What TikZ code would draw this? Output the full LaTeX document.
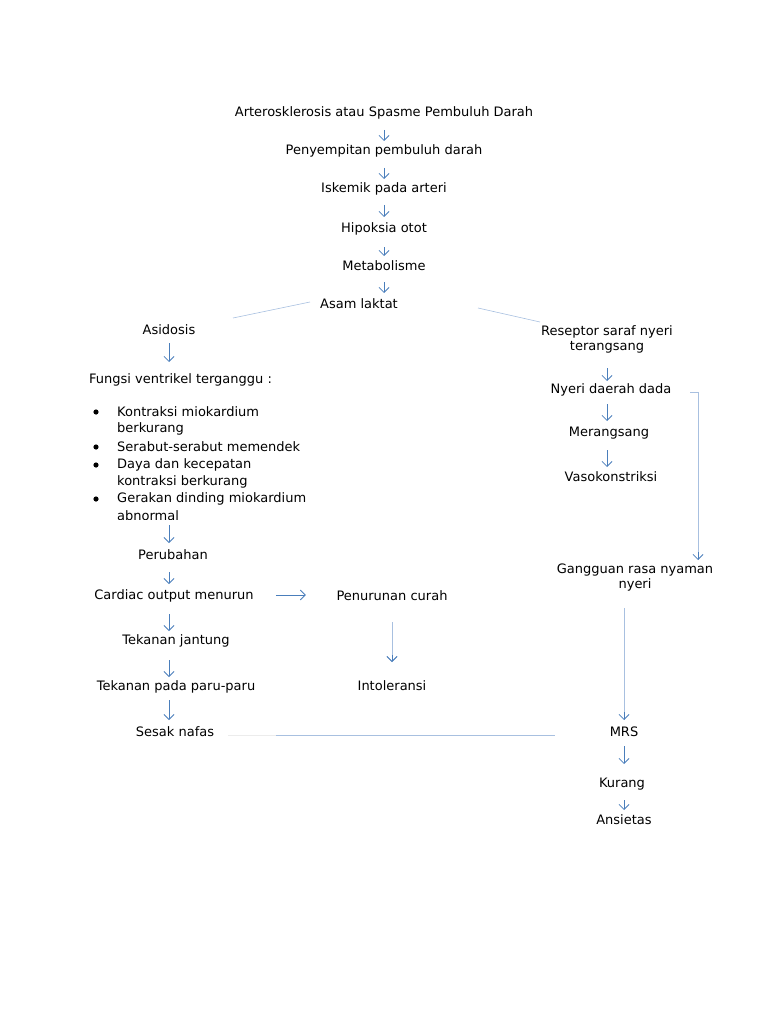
\documentclass[tikz,border=0pt]{standalone}
\usepackage{fontspec}
\setmainfont{DejaVu Sans}
\usetikzlibrary{arrows.meta}
\definecolor{ab}{HTML}{4A7EBB}
\definecolor{lb}{HTML}{A8C0E0}
\begin{document}
\begin{tikzpicture}[x=1pt,y=-1pt,
  t/.style={inner sep=0pt,font=\fontsize{13}{15}\selectfont},
  tl/.style={t,anchor=west},
  ar/.style={draw=ab,line width=0.8pt,-{Straight Barb[length=5pt,width=10pt]}},
  fl/.style={draw=lb,line width=0.6pt}]
\useasboundingbox (0,0) rectangle (768,1024);
\node[t] (a1) at (384,113) {Arterosklerosis atau Spasme Pembuluh Darah};
\node[t] (a2) at (384,151) {Penyempitan pembuluh darah};
\node[t] (a3) at (384,189) {Iskemik pada arteri};
\node[t] (a4) at (384,229) {Hipoksia otot};
\node[t] (a5) at (384,266) {Metabolisme};
\node[t] (a6) at (359,304) {Asam laktat};
\coordinate (c1) at (384,130); \coordinate (c1e) at (384,141);
\coordinate (c2) at (384,168); \coordinate (c2e) at (384,179);
\coordinate (c3) at (384,205); \coordinate (c3e) at (384,217);
\coordinate (c4) at (384,247); \coordinate (c4e) at (384,256);
\coordinate (c5) at (384,282); \coordinate (c5e) at (384,293);
\draw[ar] (c1)--(c1e); \draw[ar] (c2)--(c2e); \draw[ar] (c3)--(c3e);
\draw[ar] (c4)--(c4e); \draw[ar] (c5)--(c5e);
\coordinate (l1) at (310,302); \coordinate (l2) at (233,318);
\coordinate (r1) at (478,308); \coordinate (r2) at (540,322);
\draw[fl] (l1)--(l2); \draw[fl] (r1)--(r2);
% left
\node[t] (b1) at (169,330) {Asidosis};
\coordinate (d1) at (169,343); \coordinate (d1e) at (169,362); \draw[ar] (d1)--(d1e);
\node[tl] (b2) at (89,380) {Fungsi ventrikel terganggu :};
\begin{scope}
\clip (80,400) rectangle (360,519);
\foreach \y in {412,447,465,499} \fill (96,\y) circle (2.6pt);
\node[tl] at (117,412) {Kontraksi miokardium};
\node[tl] at (117,429) {berkurang};
\node[tl] at (117,447) {Serabut-serabut memendek};
\node[tl] at (117,465) {Daya dan kecepatan};
\node[tl] at (117,482) {kontraksi berkurang};
\node[tl] at (117,499) {Gerakan dinding miokardium};
\node[tl] at (117,516) {abnormal};
\end{scope}
\coordinate (d2) at (169,525); \coordinate (d2e) at (169,543); \draw[ar] (d2)--(d2e);
\node[t] (b3) at (173,555) {Perubahan};
\coordinate (d3) at (169,572); \coordinate (d3e) at (169,584); \draw[ar] (d3)--(d3e);
\node[t] (b4) at (174,596) {Cardiac output menurun};
\node[t] (b5) at (392,596) {Penurunan curah};
\draw[ar] (b4.east)++(22,-1) coordinate (h1) -- ++(30,0) coordinate (h2);
\coordinate (d4) at (169,614); \coordinate (d4e) at (169,631); \draw[ar] (d4)--(d4e);
\node[t] (b6) at (176,641) {Tekanan jantung};
\coordinate (d5) at (169,660); \coordinate (d5e) at (169,677); \draw[ar] (d5)--(d5e);
\node[t] (b7) at (176,687) {Tekanan pada paru-paru};
\coordinate (d6) at (169,700); \coordinate (d6e) at (169,720); \draw[ar] (d6)--(d6e);
\node[t] (b8) at (175,732) {Sesak nafas};
\coordinate (s1) at (276,735); \coordinate (s2) at (555,735);
\draw[fl] (s1)--(s2);
\draw[draw=gray!15] (228,735)--(s1);
\coordinate (p1) at (392,622); \coordinate (p1e) at (392,662); \draw[ar,draw=lb] (p1)--(p1e);
\draw[draw=ab,line width=0.8pt,-{Straight Barb[length=5pt,width=10pt]}] (392,655)--(p1e);
\node[t] (b9) at (392,686) {Intoleransi};
% right
\node[t,align=center] (e1) at (607,339) {Reseptor saraf nyeri\\terangsang};
\coordinate (f1) at (607,368); \coordinate (f1e) at (607,381); \draw[ar] (f1)--(f1e);
\node[t] (e2) at (611,390) {Nyeri daerah dada};
\coordinate (f2) at (607,404); \coordinate (f2e) at (607,421); \draw[ar] (f2)--(f2e);
\node[t] (e3) at (609,433) {Merangsang};
\coordinate (f3) at (607,450); \coordinate (f3e) at (607,467); \draw[ar] (f3)--(f3e);
\node[t] (e4) at (611,477) {Vasokonstriksi};
\coordinate (g0) at (690,392); \coordinate (g1) at (698,392); \coordinate (g2) at (698,560);
\draw[fl] (g0)--(g1);
\draw[fl] (g1)--(g2);
\draw[ar,draw=ab] (698,552)--(g2);
\node[t,align=center] (e5) at (635,578) {Gangguan rasa nyaman\\nyeri};
\coordinate (m1) at (624,608); \coordinate (m1e) at (624,720);
\draw[fl] (m1)--(m1e); \draw[ar] (624,712)--(m1e);
\node[t] (e6) at (624,732) {MRS};
\coordinate (f4) at (624,746); \coordinate (f4e) at (624,764); \draw[ar] (f4)--(f4e);
\node[t] (e7) at (622,784) {Kurang};
\coordinate (f5) at (624,800); \coordinate (f5e) at (624,810); \draw[ar] (f5)--(f5e);
\node[t] (e8) at (624,820) {Ansietas};
\end{tikzpicture}
\end{document}
